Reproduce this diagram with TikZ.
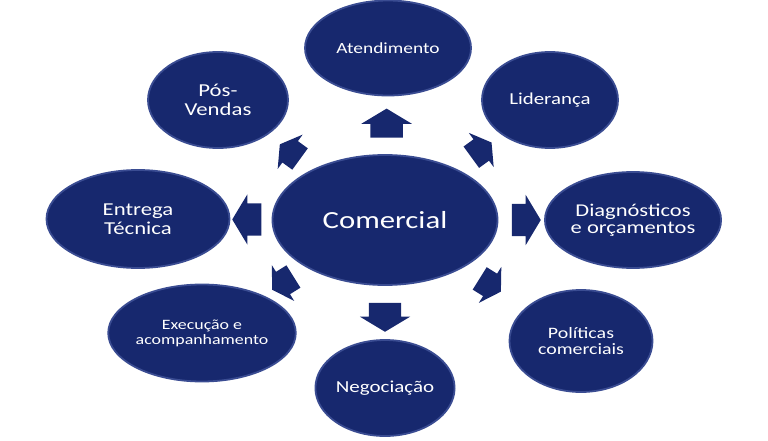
\documentclass[tikz,border=0pt]{standalone}
\usepackage{fontspec}
\newfontfamily\fonte[FakeStretch=1.25]{Carlito}
\usepackage{xcolor}
\usetikzlibrary{shapes.geometric, shapes.arrows, calc}

\definecolor{azul}{HTML}{17286E}
\definecolor{borda}{HTML}{3A4C92}

\tikzset{
  bola/.style={ellipse, fill=azul, draw=borda, line width=1.8pt, text=white, align=center, inner sep=0pt},
  seta/.style={single arrow, fill=azul, draw=none, inner xsep=0pt, inner ysep=16pt, minimum height=29pt,
    single arrow head extend=9pt, single arrow tip angle=118},
  setad/.style={seta, inner ysep=13pt, minimum height=25pt, single arrow head extend=8pt}
}
\newcommand{\tam}[2]{\fonte\fontsize{#1}{#2}\selectfont}

\begin{document}
\begin{tikzpicture}[x=1pt, y=-1pt]
		\useasboundingbox (0,0) rectangle (768,441);
		
		\node[bola, minimum width=225pt, minimum height=130pt, font=\tam{24.6}{28}] (Com) at (385,220) {Comercial};
		\node[bola, minimum width=166pt, minimum height=95pt, font=\tam{15.5}{17}] (Ate) at (388,48) {Atendimento};
		\node[bola, minimum width=136pt, minimum height=96pt, font=\tam{16.7}{17}] (Lid) at (550,100) {Liderança};
		\node[bola, minimum width=170pt, minimum height=96pt, font=\tam{18}{17}] (Dia) at (633,220) {Diagnósticos\\e orçamentos};
		\node[bola, minimum width=143pt, minimum height=102pt, font=\tam{15.9}{16}] (Pol) at (581,341) {Políticas\\comerciais};
		\node[bola, minimum width=130pt, minimum height=96pt, font=\tam{16.8}{17}] (Neg) at (385,388) {Negociação};
		\node[bola, minimum width=185pt, minimum height=97pt, font=\tam{14.3}{15}] (Exe) at (202,333) {Execução e\\acompanhamento};
		\node[bola, minimum width=183pt, minimum height=98pt, font=\tam{18.2}{19}] (Ent) at (138,219) {Entrega\\Técnica};
		\node[bola, minimum width=140pt, minimum height=96pt, font=\tam{18.2}{19}] (Pos) at (218,100) {Pós-\\Vendas};
		
		\node[seta, rotate=90] (s1) at ($(Com)!0.535!(Ate)$) {};
		\node[setad, rotate=36] (s2) at ($(Com)!0.565!(Lid)$) {};
		\node[seta, rotate=0] (s3) at ($(Com)!0.55!(Dia)$) {};
		\node[setad, rotate=-32] (s4) at ($(Com)!0.52!(Pol)$) {};
		\node[seta, rotate=-90] (s5) at ($(Com)!0.55!(Neg)$) {};
		\node[setad, rotate=212] (s6) at ($(Com)!0.54!(Exe)$) {};
		\node[seta, rotate=180] (s7) at ($(Com)!0.54!(Ent)$) {};
		\node[setad, rotate=144] (s8) at ($(Com)!0.55!(Pos)$) {};
\end{tikzpicture}
\end{document}
